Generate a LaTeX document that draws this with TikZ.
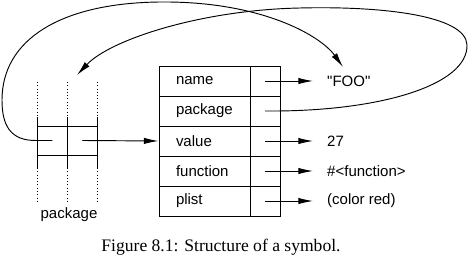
\documentclass[tikz,border=0pt]{standalone}
\usepackage{fontspec}
\setmainfont{Liberation Sans}
\newfontfamily\plainsans{Liberation Sans}
\newfontfamily\capfont{Liberation Serif}
\usetikzlibrary{arrows.meta,positioning}
\tikzset{
  >={Latex[length=4.4mm,width=1.9mm]},
  symline/.style={line width=0.8pt},
  slotname/.style={draw,line width=0.8pt,minimum height=0.9cm,
    text width=1.71cm,inner xsep=0.51cm,align=left,font=\fontsize{12.8}{14}\selectfont},
  slotval/.style={draw,line width=0.8pt,minimum height=0.9cm,minimum width=0.9cm},
  slotlbl/.style={anchor=west,inner xsep=0.42cm,inner ysep=1pt,
    font=\fontsize{12.8}{14}\selectfont},
  pkgcell/.style={draw,line width=0.8pt,minimum height=0.87cm,minimum width=0.9cm,
    inner sep=0pt},
  slotarr/.style={->,line width=0.8pt},
}
\begin{document}
\begin{tikzpicture}[x=0.03cm,y=-0.03cm]
  \useasboundingbox (0,0) rectangle (474,262);
  % symbol cells
  \foreach \n/\lbl [count=\i from 0] in {nm/name,pk/package,vl/value,fn/function,pl/plist} {
    \node[slotname] (\n) at (204.5,81+30*\i) {\lbl};
    \node[slotval] (\n v) at (265,81+30*\i) {};
  }
  % targets
  \node[slotlbl] (foo) at (313,81) {\plainsans "FOO"};
  \node[slotlbl] (num) at (313,141) {27};
  \node[slotlbl] (fun) at (313,171) {\#<function>};
  \node[slotlbl] (col) at (313,201) {(color red)};
  \draw[slotarr] (nmv.center) -- (foo.west);
  \draw[slotarr] (vlv.center) -- (num.west);
  \draw[slotarr] (fnv.center) -- (fun.west);
  \draw[slotarr] (plv.center) -- (col.west);
  % package vector
  \node[pkgcell] (lc) at (52.25,140.5) {};
  \node[pkgcell] (rc) at (82.25,140.5) {};
  \foreach \x in {37,67.25,97.5} {
    \draw[symline,dotted] (\x,82) -- (\x,117);
    \draw[symline] (\x,117) -- (\x,168);
    \draw[symline,dotted] (\x,168) -- (\x,202);
  }
  \node[font=\fontsize{12.8}{14}\selectfont] (pkglbl) at (69,215) {package};
  \draw[slotarr] (rc.center) -- (vl.west);
  % curves
  \coordinate (pkgtop) at (77,75);
  \coordinate (foohook) at (343,67);
  \draw[slotarr] (pkv.center) .. controls (380,112) and (468,85) .. (467,45)
    .. controls (466,15) and (380,6) .. (300,8)
    .. controls (200,10) and (110,40) .. (pkgtop);
  \draw[slotarr] (lc.center) -- (lc.west) .. controls (10,141) and (2,125) .. (2,100)
    .. controls (2,40) and (60,3) .. (160,2)
    .. controls (260,1) and (320,35) .. (foohook);
  % caption
  \node[font=\capfont\fontsize{15}{18}\selectfont] (cap) at (221,247)
    {Figure 8.1: Structure of a symbol.};
\end{tikzpicture}
\end{document}
